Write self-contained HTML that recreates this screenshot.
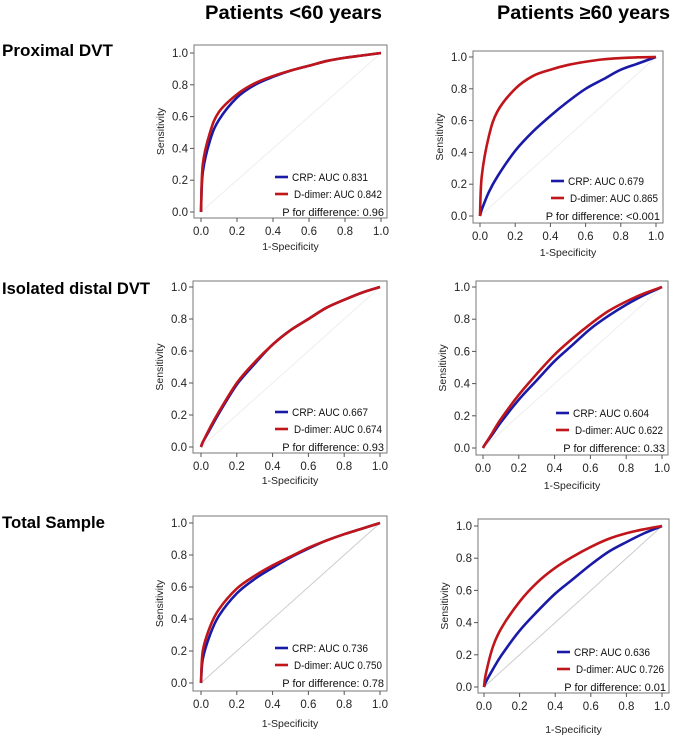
<!DOCTYPE html>
<html><head><meta charset="utf-8"><style>
body{margin:0;background:#fff;}
svg{display:block;font-family:"Liberation Sans",Arial,sans-serif;}
</style></head><body>
<svg id="fig" width="675" height="736" viewBox="0 0 675 736">
<text x="205" y="19" font-size="19" font-weight="bold" textLength="177" lengthAdjust="spacingAndGlyphs">Patients &lt;60 years</text>
<text x="497" y="19" font-size="19" font-weight="bold" textLength="173" lengthAdjust="spacingAndGlyphs">Patients ≥60 years</text>
<text x="2" y="56" font-size="17" font-weight="bold" textLength="111" lengthAdjust="spacingAndGlyphs">Proximal DVT</text>
<text x="2" y="294" font-size="17" font-weight="bold" textLength="148" lengthAdjust="spacingAndGlyphs">Isolated distal DVT</text>
<text x="2" y="528" font-size="17" font-weight="bold" textLength="103" lengthAdjust="spacingAndGlyphs">Total Sample</text>
</svg>
<script>
const fprGrid = [0,0.01,0.05,0.1,0.2,0.3,0.4,0.5,0.6,0.7,0.8,0.9,1];
const crpP1 = [0,0.25,0.45,0.58,0.72,0.80,0.85,0.89,0.92,0.95,0.97,0.985,1];
const ddP1  = [0,0.30,0.50,0.63,0.74,0.81,0.855,0.89,0.92,0.95,0.97,0.985,1];
const crpP2 = [0,0.04,0.15,0.25,0.41,0.53,0.63,0.72,0.80,0.86,0.92,0.96,1];
const ddP2  = [0,0.25,0.50,0.66,0.80,0.88,0.92,0.95,0.97,0.985,0.993,0.998,1];
const crpP3 = [0,0.03,0.11,0.21,0.39,0.52,0.64,0.73,0.80,0.87,0.92,0.965,1];
const ddP3  = [0,0.03,0.12,0.22,0.40,0.53,0.64,0.73,0.80,0.87,0.92,0.965,1];
const crpP4 = [0,0.02,0.08,0.16,0.30,0.42,0.54,0.64,0.74,0.82,0.89,0.95,1];
const ddP4  = [0,0.02,0.09,0.18,0.33,0.46,0.58,0.68,0.77,0.85,0.91,0.96,1];
const crpP5 = [0,0.15,0.30,0.42,0.56,0.65,0.72,0.785,0.84,0.89,0.93,0.965,1];
const ddP5  = [0,0.20,0.35,0.46,0.59,0.67,0.735,0.79,0.845,0.89,0.93,0.965,1];
const crpP6 = [0,0.03,0.11,0.20,0.35,0.47,0.58,0.67,0.76,0.84,0.90,0.955,1];
const ddP6  = [0,0.08,0.25,0.37,0.53,0.65,0.74,0.81,0.87,0.92,0.955,0.98,1];
const tickLabels = ["0.0","0.2","0.4","0.6","0.8","1.0"];
const tickValues = [0,0.2,0.4,0.6,0.8,1];
const legendCrp = ["CRP: AUC 0.831","CRP: AUC 0.679","CRP: AUC 0.667","CRP: AUC 0.604","CRP: AUC 0.736","CRP: AUC 0.636"];
const legendDd = ["D-dimer: AUC 0.842","D-dimer: AUC 0.865","D-dimer: AUC 0.674","D-dimer: AUC 0.622","D-dimer: AUC 0.750","D-dimer: AUC 0.726"];
const pValues = ["P for difference: 0.96","P for difference: <0.001","P for difference: 0.93","P for difference: 0.33","P for difference: 0.78","P for difference: 0.01"];

const panels = [
 {f:[194,45,387,218], x0:201,x1:381,y0:212,y1:53, xl:250, crp:crpP1, dd:ddP1, diag:'#eee'},
 {f:[473,51,663,223], x0:480,x1:656,y0:216,y1:57, xl:256, crp:crpP2, dd:ddP2, diag:'#eee'},
 {f:[193,281,387,453], x0:201,x1:380,y0:447,y1:287, xl:484, crp:crpP3, dd:ddP3, diag:'#eee'},
 {f:[476,281,668,455], x0:483,x1:662,y0:448,y1:287, xl:489, crp:crpP4, dd:ddP4, diag:'#eee'},
 {f:[193,516,387,691], x0:201,x1:380,y0:683,y1:523, xl:727, crp:crpP5, dd:ddP5, diag:'#ccc'},
 {f:[478,519,669,693], x0:484,x1:662,y0:687,y1:526, xl:733, crp:crpP6, dd:ddP6, diag:'#ccc'}
];
const svg = document.getElementById('fig');
const NS='http://www.w3.org/2000/svg';
function mk(tag, attrs, parent){const e=document.createElementNS(NS,tag);for(const k in attrs)e.setAttribute(k,attrs[k]);(parent||svg).appendChild(e);return e;}
function pathFor(xs, ys, sx, sy){
  const p = xs.map((x,i)=>[sx(x), sy(ys[i])]);
  let d='M'+p[0][0]+','+p[0][1];
  for(let i=0;i<p.length-1;i++){
    const a=p[Math.max(0,i-1)], b=p[i], c=p[i+1], e=p[Math.min(p.length-1,i+2)];
    const c1=[b[0]+(c[0]-a[0])/6, b[1]+(c[1]-a[1])/6];
    const c2=[c[0]-(e[0]-b[0])/6, c[1]-(e[1]-b[1])/6];
    d+=' C'+c1[0].toFixed(2)+','+c1[1].toFixed(2)+' '+c2[0].toFixed(2)+','+c2[1].toFixed(2)+' '+c[0].toFixed(2)+','+c[1].toFixed(2);
  }
  return d;
}
panels.forEach((P, idx)=>{
  const g = mk('g',{});
  
  
  const sx = v => P.x0 + v*(P.x1-P.x0);
  const sy = v => P.y0 - v*(P.y0-P.y1);
  const [L,T,R,B] = P.f;
  const fr = mk('rect',{x:L,y:T,width:R-L,height:B-T,fill:'none',stroke:'#777','stroke-width':1},g);
  
  
  const dg = mk('line',{x1:sx(0),y1:sy(0),x2:sx(1),y2:sy(1),stroke:P.diag,'stroke-width':1},g);
  
  
  tickValues.forEach((v,i)=>{
    mk('line',{x1:L-4,x2:L,y1:sy(v),y2:sy(v),stroke:'#555'},g);
    const ty = mk('text',{x:L-6,y:sy(v)+4,'font-size':11.5,'text-anchor':'end',fill:'#222'},g);
    ty.textContent = tickLabels[i];
    
    
    mk('line',{x1:sx(v),x2:sx(v),y1:B,y2:B+4,stroke:'#555'},g);
    const tx = mk('text',{x:sx(v),y:B+17,'font-size':11.5,'text-anchor':'middle',fill:'#222'},g);
    tx.textContent = tickLabels[i];
    
    
  });
  const yl = mk('text',{x:0,y:0,'font-size':10.5,'text-anchor':'middle',fill:'#222',transform:'translate('+(L-30)+','+((T+B)/2)+') rotate(-90)'},g);
  yl.textContent='Sensitivity';
  
  
  const xl = mk('text',{x:(L+R)/2,y:P.xl,'font-size':10.5,'text-anchor':'middle',fill:'#222'},g);
  xl.textContent='1-Specificity';
  
  
  const c1 = mk('path',{d:pathFor(fprGrid,P.crp,sx,sy),fill:'none',stroke:'#1a1aa8','stroke-width':2.6},g);
  
  
  const c2 = mk('path',{d:pathFor(fprGrid,P.dd,sx,sy),fill:'none',stroke:'#c0151a','stroke-width':2.6},g);
  
  
  const lx = R-95;
  mk('line',{x1:lx-17,x2:lx-4,y1:P.y0-35,y2:P.y0-35,stroke:'#1a1aa8','stroke-width':2.6},g);
  const t1 = mk('text',{x:lx,y:P.y0-31,'font-size':11,fill:'#111',textLength:76,lengthAdjust:'spacingAndGlyphs'},g);
  t1.textContent = legendCrp[idx];
  
  
  mk('line',{x1:lx-17,x2:lx-4,y1:P.y0-18,y2:P.y0-18,stroke:'#c0151a','stroke-width':2.6},g);
  const t2 = mk('text',{x:lx+2,y:P.y0-14,'font-size':11,fill:'#111',textLength:88,lengthAdjust:'spacingAndGlyphs'},g);
  t2.textContent = legendDd[idx];
  
  
  const t3 = mk('text',{x:R-3,y:P.y0+4,'font-size':11,'text-anchor':'end',fill:'#111'},g);
  t3.textContent = pValues[idx];
  
  
});
</script>
</body></html>
